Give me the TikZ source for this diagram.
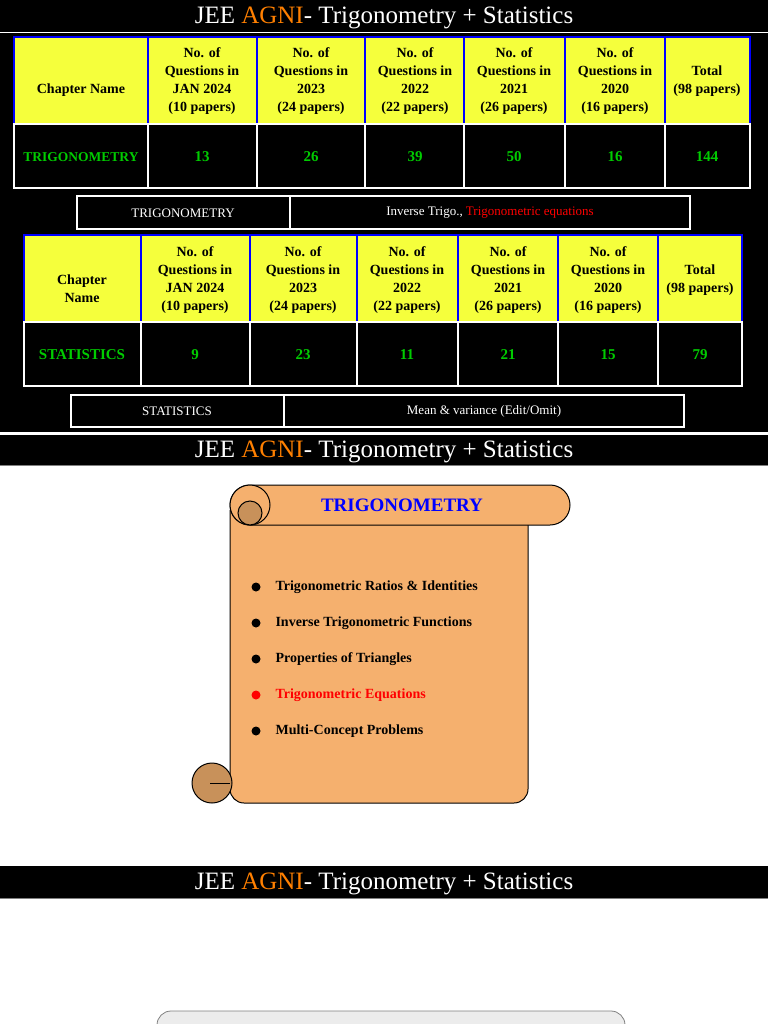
\documentclass[tikz,border=0pt]{standalone}
\usepackage{fontspec}
\setmainfont{Liberation Serif}
\definecolor{scrollc}{HTML}{F5B06E}
\definecolor{curlc}{HTML}{C8915A}
\definecolor{hy}{HTML}{F5FF3C}
\begin{document}
\begin{tikzpicture}[x=1pt,y=-1pt,
  hdr/.style={fill=hy,draw=blue,line width=1.5pt},
  dat/.style={fill=black,draw=white,line width=1.2pt},
  tt/.style={font=\fontsize{14}{18}\selectfont\bfseries,align=center},
  gt/.style={font=\fontsize{15}{16}\selectfont\bfseries,text=green!80!black},
  st/.style={font=\fontsize{13}{14}\selectfont,text=white},
  title/.style={font=\fontsize{25}{26}\selectfont,text=white},
  scroll/.style={fill=scrollc,draw=black,line width=1pt},
  curl/.style={fill=curlc,draw=black,line width=1pt},
  bl/.style={font=\fontsize{14}{15}\selectfont\bfseries,anchor=west}]
\useasboundingbox (0,0) rectangle (768,1024);
\fill[white] (0,0) rectangle (768,1024);
\fill[black] (0,0) rectangle (768,432);
\draw[white,line width=1pt] (0,33) -- (768,33);
\node[title] (t1) at (384,18) {JEE \textcolor{orange}{AGNI}- Trigonometry + Statistics};
% table 1
\foreach \a/\b in {14/148,148/257,257/365,365/464,464/565,565/665,665/750}{
  \filldraw[hdr] (\a,37) rectangle (\b,124);
  \filldraw[dat] (\a,124) rectangle (\b,188);
}
\node[tt] (h11) at (81,90) {Chapter Name};
\node[tt] (h12) at (202,81) {No. of\\Questions in\\JAN 2024\\(10 papers)};
\node[tt] (h13) at (311,81) {No. of\\Questions in\\2023\\(24 papers)};
\node[tt] (h14) at (415,81) {No. of\\Questions in\\2022\\(22 papers)};
\node[tt] (h15) at (514,81) {No. of\\Questions in\\2021\\(26 papers)};
\node[tt] (h16) at (615,81) {No. of\\Questions in\\2020\\(16 papers)};
\node[tt] (h17) at (707,81) {Total\\(98 papers)};
\node[gt,font=\fontsize{13.5}{15}\selectfont\bfseries] (d11) at (81,157) {TRIGONOMETRY};
\node[gt] (d12) at (202,157) {13};
\node[gt] (d13) at (311,157) {26};
\node[gt] (d14) at (415,157) {39};
\node[gt] (d15) at (514,157) {50};
\node[gt] (d16) at (615,157) {16};
\node[gt] (d17) at (707,157) {144};
\filldraw[dat] (77,196) rectangle (290,229);
\filldraw[dat] (290,196) rectangle (690,229);
\node[st] (s11) at (183,213) {TRIGONOMETRY};
\node[st] (s12) at (490,213) {Inverse Trigo., \textcolor{red}{Trigonometric equations}};
% table 2
\foreach \a/\b in {24/141,141/250,250/357,357/458,458/558,558/658,658/742}{
  \filldraw[hdr] (\a,235) rectangle (\b,322);
  \filldraw[dat] (\a,322) rectangle (\b,386);
}
\node[tt] (h21) at (82,289) {Chapter\\Name};
\node[tt] (h22) at (195,280) {No. of\\Questions in\\JAN 2024\\(10 papers)};
\node[tt] (h23) at (303,280) {No. of\\Questions in\\2023\\(24 papers)};
\node[tt] (h24) at (407,280) {No. of\\Questions in\\2022\\(22 papers)};
\node[tt] (h25) at (508,280) {No. of\\Questions in\\2021\\(26 papers)};
\node[tt] (h26) at (608,280) {No. of\\Questions in\\2020\\(16 papers)};
\node[tt] (h27) at (700,280) {Total\\(98 papers)};
\node[gt] (d21) at (82,355) {STATISTICS};
\node[gt] (d22) at (195,355) {9};
\node[gt] (d23) at (303,355) {23};
\node[gt] (d24) at (407,355) {11};
\node[gt] (d25) at (508,355) {21};
\node[gt] (d26) at (608,355) {15};
\node[gt] (d27) at (700,355) {79};
\filldraw[dat] (71,395) rectangle (284,427);
\filldraw[dat] (284,395) rectangle (684,427);
\node[st] (s21) at (177,411) {STATISTICS};
\node[st] (s22) at (484,411) {Mean \& variance (Edit/Omit)};
% slide 2 header
\fill[black] (0,435) rectangle (768,465);
\draw[gray,line width=0.8pt] (0,465) -- (768,465);
\node[title] (t2) at (384,452) {JEE \textcolor{orange}{AGNI}- Trigonometry + Statistics};
% scroll
\filldraw[scroll,rounded corners=14pt] (230,510) -- (230,803) -- (528,803) -- (528,510);
\filldraw[scroll,rounded corners=20pt] (230,485) rectangle (570,525);
\filldraw[scroll] (250,505) circle (20);
\filldraw[curl] (250,513) circle (12);
\filldraw[curl] (212,783) circle (20);
\draw[black,line width=1pt] (210,783) -- (230,783);
\node[font=\fontsize{19}{20}\selectfont\bfseries,text=blue] (sh) at (402,505) {TRIGONOMETRY};
\foreach \y/\t/\c [count=\i] in {587/Trigonometric Ratios \& Identities/black,623/Inverse Trigonometric Functions/black,659/Properties of Triangles/black,695/Trigonometric Equations/red,731/Multi-Concept Problems/black}{
  \fill[\c] (256,\y) circle (4.5);
  \node[bl,text=\c] (b\i) at (272,\y) {\t};
}
% slide 3 header
\fill[black] (0,866) rectangle (768,898);
\draw[gray,line width=0.8pt] (0,898) -- (768,898);
\node[title] (t3) at (384,884) {JEE \textcolor{orange}{AGNI}- Trigonometry + Statistics};
\filldraw[fill=gray!15,draw=gray,line width=0.8pt,rounded corners=14pt] (157,1040) -- (157,1011) -- (625,1011) -- (625,1040);
\end{tikzpicture}
\end{document}
